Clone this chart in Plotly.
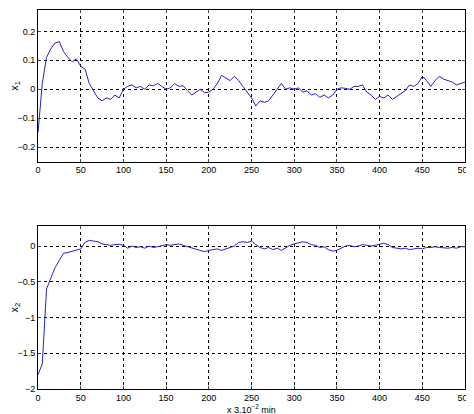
import plotly.graph_objects as go
from plotly.subplots import make_subplots

# samples every 5 units of x
x = list(range(0, 501, 5))

x1 = [-0.15, 0.02, 0.11, 0.14, 0.16, 0.165, 0.13, 0.11, 0.095, 0.105,
      0.08, 0.07, 0.02, -0.005, -0.03, -0.04, -0.03, -0.035, -0.02, -0.03,
      0.0, 0.01, 0.015, 0.005, 0.01, 0.0, 0.015, 0.012, 0.02, 0.01,
      0.0, 0.005, 0.02, 0.01, 0.012, -0.005, -0.02, -0.01, 0.0, -0.012,
      -0.01, 0.0, 0.02, 0.048, 0.04, 0.03, 0.045, 0.03, 0.01, -0.01,
      -0.03, -0.058, -0.04, -0.045, -0.04, -0.02, 0.0, 0.02, 0.0, 0.005,
      0.0, 0.005, -0.01, -0.005, -0.02, -0.015, -0.028, -0.02, -0.03, -0.02,
      0.0, 0.005, 0.003, 0.0, 0.01, 0.01, 0.015, -0.01, -0.02, -0.035,
      -0.025, -0.03, -0.02, -0.035, -0.025, -0.015, -0.005, 0.015, 0.01, 0.02,
      0.045, 0.03, 0.01, 0.03, 0.045, 0.035, 0.03, 0.025, 0.015, 0.02,
      0.025]

x2 = [-1.8, -1.65, -0.6, -0.45, -0.3, -0.2, -0.1, -0.09, -0.07, -0.05,
      -0.04, 0.05, 0.08, 0.07, 0.06, 0.03, 0.02, 0.01, 0.02, 0.025,
      0.01, -0.03, 0.0, -0.02, -0.01, -0.03, 0.0, -0.02, -0.01, 0.01,
      0.02, 0.01, 0.02, 0.03, 0.01, -0.01, -0.03, -0.05, -0.07, -0.08,
      -0.06, -0.05, -0.04, -0.06, -0.04, -0.03, 0.0, 0.05, 0.06, 0.05,
      0.07, 0.02, -0.02, -0.04, -0.02, -0.05, -0.03, -0.06, -0.02, 0.01,
      0.03, 0.04, 0.06, 0.05, 0.02, 0.01, -0.02, -0.01, -0.05, -0.07,
      -0.06, -0.03, 0.0, 0.01, -0.01, 0.0, 0.02, 0.01, 0.0, 0.01,
      0.02, 0.04, 0.02, -0.02, -0.03, -0.04, -0.03, -0.05, -0.04, -0.03,
      -0.04, -0.02, -0.02, -0.01, -0.02, -0.03, -0.03, -0.02, -0.03, -0.01,
      -0.01]

fig = make_subplots(rows=2, cols=1)
fig.add_trace(go.Scatter(x=x, y=x1, mode="lines", line=dict(color="#2222cc", width=1)), row=1, col=1)
fig.add_trace(go.Scatter(x=x, y=x2, mode="lines", line=dict(color="#2222cc", width=1)), row=2, col=1)

ax = dict(showline=True, mirror="ticks", linecolor="black", linewidth=1,
          showgrid=True, gridcolor="black", griddash="dot", gridwidth=0.6,
          ticks="inside", ticklen=3, zeroline=False, ticklabeloverflow="allow",
          tickfont=dict(size=9, color="black"))

fig.update_xaxes(range=[0, 500], tickvals=list(range(0, 501, 50)), **ax)
fig.update_yaxes(**ax)
fig.update_layout(
    width=466, height=406,
    margin=dict(l=22, r=6, t=1, b=25),
    showlegend=False,
    paper_bgcolor="white", plot_bgcolor="white",
    font=dict(family="Liberation Sans", size=9, color="black"),
    xaxis=dict(domain=[0, 1]),
    yaxis=dict(domain=[0.6, 1], range=[-0.25, 0.274], dtick=0.1,
               title=dict(text="x<sub>1</sub>", standoff=1)),
    xaxis2=dict(domain=[0, 1]),
    yaxis2=dict(domain=[0, 0.43], range=[-2.0, 0.28], dtick=0.5,
                title=dict(text="x<sub>2</sub>", standoff=1)),
    annotations=[dict(text="x 3.10<sup>−2</sup> min", xref="paper", yref="paper",
                      x=0.5, y=0, yanchor="top", yshift=-12, showarrow=False,
                      font=dict(size=9))],
)

fig.write_html("out.html")
